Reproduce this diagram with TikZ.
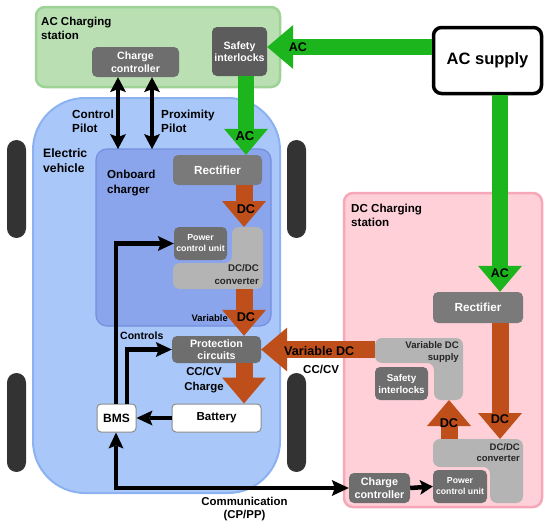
\documentclass[tikz,border=0pt]{standalone}
\usepackage{fontspec}
\setmainfont{Liberation Sans}
\usetikzlibrary{arrows.meta}
\definecolor{acfill}{HTML}{B9DFB3}
\definecolor{acline}{HTML}{9DD496}
\definecolor{evfill}{HTML}{A9C7F8}
\definecolor{evline}{HTML}{8CB2F2}
\definecolor{obcfill}{HTML}{8AA5EB}
\definecolor{obcline}{HTML}{7490DE}
\definecolor{dcfill}{HTML}{FFD0D8}
\definecolor{dcline}{HTML}{F6A8B8}
\definecolor{grayA}{HTML}{6E6E6E}
\definecolor{grayB}{HTML}{5C5C5C}
\definecolor{grayC}{HTML}{7A7A7A}
\definecolor{grayL}{HTML}{B4B4B4}
\definecolor{pgreen}{HTML}{1DB51D}
\definecolor{porange}{HTML}{BF4F1A}
\definecolor{wheelc}{HTML}{333333}
\newcommand\myfs[2]{\fontsize{#1}{#2}\selectfont\bfseries}
\begin{document}
\begin{tikzpicture}[x=1pt,y=-1pt,
  gbox/.style={fill=#1, rounded corners=5pt, inner sep=0pt, align=center, text=white},
  wbox/.style={fill=white, draw=#1, line width=1pt, rounded corners=4pt, inner sep=0pt, align=center, text=black},
  txt/.style={inner sep=0pt, align=left, text=black},
  hidden/.style={inner sep=0pt, outer sep=0pt},
  garrow/.style={draw=pgreen, line width=16pt, line cap=butt, -{Triangle[width=44pt,length=26pt,line width=0pt]}},
  oarrow/.style={draw=porange, line width=17pt, line cap=butt, -{Triangle[width=44pt,length=26pt,line width=0pt]}},
  bline/.style={draw=black, line width=4.5pt, line cap=butt},
  wheel/.style={fill=wheelc, rounded corners=9.5pt}
]
\useasboundingbox (0,0) rectangle (550,530);

% backgrounds
\filldraw[fill=acfill, draw=acline, line width=2.5pt, rounded corners=9pt] (36,7) rectangle (280,87);
\filldraw[fill=evfill, draw=evline, line width=2pt, rounded corners=52pt] (33,98) rectangle (280,493);
\fill[wheel] (7,140) rectangle (26,238);
\fill[wheel] (7,373) rectangle (26,472);
\fill[wheel] (287,140) rectangle (306,238);
\fill[wheel] (287,373) rectangle (306,472);
\filldraw[fill=obcfill, draw=obcline, line width=1.2pt, rounded corners=11pt] (96,149) rectangle (271,326);
\node[hidden, minimum width=175pt, minimum height=177pt] (obc) at (183.5,237.5) {};
\filldraw[fill=dcfill, draw=dcline, line width=2.5pt, rounded corners=9pt] (344,193) rectangle (542,507);

% AC station
\node[gbox=grayA, minimum width=87pt, minimum height=30pt, font=\myfs{10.6}{12.5}] (accc) at (135.5,62) {Charge\\controller};
\node[gbox=grayB, minimum width=55pt, minimum height=49pt, font=\myfs{10.6}{12.5}] (acsi) at (239.5,51.5) {Safety\\interlocks};
\node[fill=white, draw=black, line width=3.5pt, rounded corners=8pt, inner sep=0pt, minimum width=108pt, minimum height=66pt, font=\myfs{16.5}{19}] (acsup) at (487.5,60.5) {AC supply};

% EV
\node[gbox=grayC, minimum width=89pt, minimum height=30pt, font=\myfs{11.7}{13}] (evrect) at (217.5,170) {Rectifier};
\fill[grayL, rounded corners=7pt] (173,263) -- (232,263) -- (232,227) -- (263,227) -- (263,289) -- (173,289) -- cycle;
\node[hidden, minimum width=90pt, minimum height=62pt] (evdcdc) at (218,258) {};
\node[txt, align=right, anchor=east, text=black!85, font=\myfs{9.7}{12.5}] (evdcdct) at (259,274.5) {DC/DC\\converter};
\node[gbox=grayA, minimum width=53pt, minimum height=33pt, font=\myfs{8.8}{11}] (evpcu) at (200.5,243.5) {Power\\control unit};
\node[gbox=grayA, minimum width=89pt, minimum height=27pt, font=\myfs{10.7}{12.5}] (prot) at (216.5,349.5) {Protection\\circuits};
\node[wbox=black!45, minimum width=89pt, minimum height=28pt, font=\myfs{11.6}{13}] (batt) at (216.5,418) {Battery};
\node[wbox=black!45, minimum width=39pt, minimum height=28pt, font=\myfs{12}{13}] (bms) at (116.5,418) {BMS};

% DC station
\node[gbox=grayC, minimum width=90pt, minimum height=31pt, font=\myfs{11.7}{13}] (dcrect) at (478,307.5) {Rectifier};
\fill[grayL, rounded corners=7pt] (433,439) -- (523,439) -- (523,503) -- (490,503) -- (490,467) -- (433,467) -- cycle;
\node[hidden, minimum width=90pt, minimum height=64pt] (dcdcdc) at (478,471) {};
\node[txt, align=right, anchor=east, text=black!85, font=\myfs{9.5}{11.6}] (dcdcdct) at (520,452.5) {DC/DC\\converter};
\node[gbox=grayA, minimum width=54pt, minimum height=33pt, font=\myfs{8.7}{11}] (dcpcu) at (460,486.5) {Power\\control unit};
\fill[grayL, rounded corners=7pt] (375,338) -- (463,338) -- (463,400) -- (434,400) -- (434,363) -- (375,363) -- cycle;
\node[hidden, minimum width=88pt, minimum height=62pt] (dcvar) at (419,369) {};
\node[txt, align=right, anchor=east, text=black!85, font=\myfs{9.6}{12}] (dcvart) at (459,352) {Variable DC\\supply};
\node[gbox=grayA, minimum width=53pt, minimum height=33pt, font=\myfs{9.8}{12}] (dcsi) at (401.5,383.5) {Safety\\interlocks};
\node[gbox=grayA, minimum width=61pt, minimum height=30pt, font=\myfs{10.8}{13}] (dccc) at (379.5,488) {Charge\\controller};

% power arrows
\draw[garrow] (acsup.west |- 0,47) -- (acsi.east |- 0,47);
\draw[garrow] (acsup.south -| 500,0) -- (dcrect.north -| 500,0);
\draw[garrow] (acsi.south -| 246,0) -- (evrect.north -| 246,0);
\draw[oarrow] (evrect.south -| 244,0) -- (evdcdc.north -| 244,0);
\draw[oarrow] (evdcdc.south -| 244,0) -- (prot.north -| 244,0);
\draw[oarrow] (prot.south -| 244,0) -- (batt.north -| 244,0);
\draw[oarrow] (dcrect.south -| 500,0) -- (dcdcdc.north -| 500,0);
\draw[oarrow] (dcdcdc.north -| 449,0) -- (dcvar.south -| 449,0);
\draw[oarrow] (dcvar.west |- prot.east) -- (prot.east);

% signal arrows
\draw[bline, {Stealth[length=15pt,width=16pt,inset=3pt,line width=0pt]}-{Stealth[length=15pt,width=16pt,inset=3pt,line width=0pt]}] (accc.south -| 118,0) -- (obc.north -| 118,0);
\draw[bline, {Stealth[length=15pt,width=16pt,inset=3pt,line width=0pt]}-{Stealth[length=15pt,width=16pt,inset=3pt,line width=0pt]}] (accc.south -| 152,0) -- (obc.north -| 152,0);
\draw[bline, -{Stealth[length=16pt,width=15pt,inset=3pt,line width=0pt]}] (batt.west) -- (bms.east);
\draw[bline, -{Stealth[length=16pt,width=15pt,inset=3pt,line width=0pt]}] (bms.north -| 116,0) |- (evpcu.west);
\draw[bline, -{Stealth[length=16pt,width=15pt,inset=3pt,line width=0pt]}] (bms.north -| 127,0) |- (prot.west);
\draw[bline, {Stealth[length=16pt,width=15pt,inset=3pt,line width=0pt]}-{Stealth[length=17pt,width=16pt,inset=3pt,line width=0pt]}] (bms.south -| 116,0) |- (dccc.west);
\draw[bline, -{Stealth[length=13pt,width=15pt,inset=3pt,line width=0pt]}] (dccc.east) -- (dcpcu.west);

% labels
\node[txt, anchor=west, font=\myfs{11.5}{13.5}] (lacst) at (41,28.5) {AC Charging\\station};
\node[txt, anchor=west, font=\myfs{11.7}{13.5}] (lcp) at (72,121.5) {Control\\Pilot};
\node[txt, anchor=west, font=\myfs{11.7}{13.5}] (lpp) at (161,121.5) {Proximity\\Pilot};
\node[txt, anchor=west, font=\myfs{12.2}{15}] (lev) at (43,160.5) {Electric\\vehicle};
\node[txt, anchor=west, font=\myfs{11.6}{15.5}] (lobc) at (107,183) {Onboard\\charger};
\node[txt, anchor=east, font=\myfs{9.4}{11}] (lvar) at (228,318) {Variable};
\node[txt, anchor=west, font=\myfs{10.5}{12}] (lctl) at (120,336) {Controls};
\node[txt, align=center, font=\myfs{11.4}{15}] (lcccv) at (204,380.5) {CC/CV\\Charge};
\node[txt, anchor=west, font=\myfs{12.6}{14}] (lvdc) at (284,351) {Variable DC};
\node[txt, anchor=west, font=\myfs{11.5}{13}] (lcccv2) at (303,369) {CC/CV};
\node[txt, anchor=west, font=\myfs{11.6}{14}] (ldcst) at (351,215) {DC Charging\\station};
\node[txt, align=center, font=\myfs{11.4}{13}] (lcomm) at (244.5,509.5) {Communication\\(CP/PP)};
\node[txt, font=\myfs{12.5}{14}] (lac1) at (298,47) {AC};
\node[txt, font=\myfs{13}{14}] (lac2) at (245,136) {AC};
\node[txt, font=\myfs{12.5}{14}] (lac3) at (500,273) {AC};
\node[txt, font=\myfs{12.7}{14}] (ldc1) at (246,209) {DC};
\node[txt, font=\myfs{12.7}{14}] (ldc2) at (246,317) {DC};
\node[txt, font=\myfs{12.7}{14}] (ldc3) at (500,419) {DC};
\node[txt, font=\myfs{12.7}{14}] (ldc4) at (449,423) {DC};
\end{tikzpicture}
\end{document}
